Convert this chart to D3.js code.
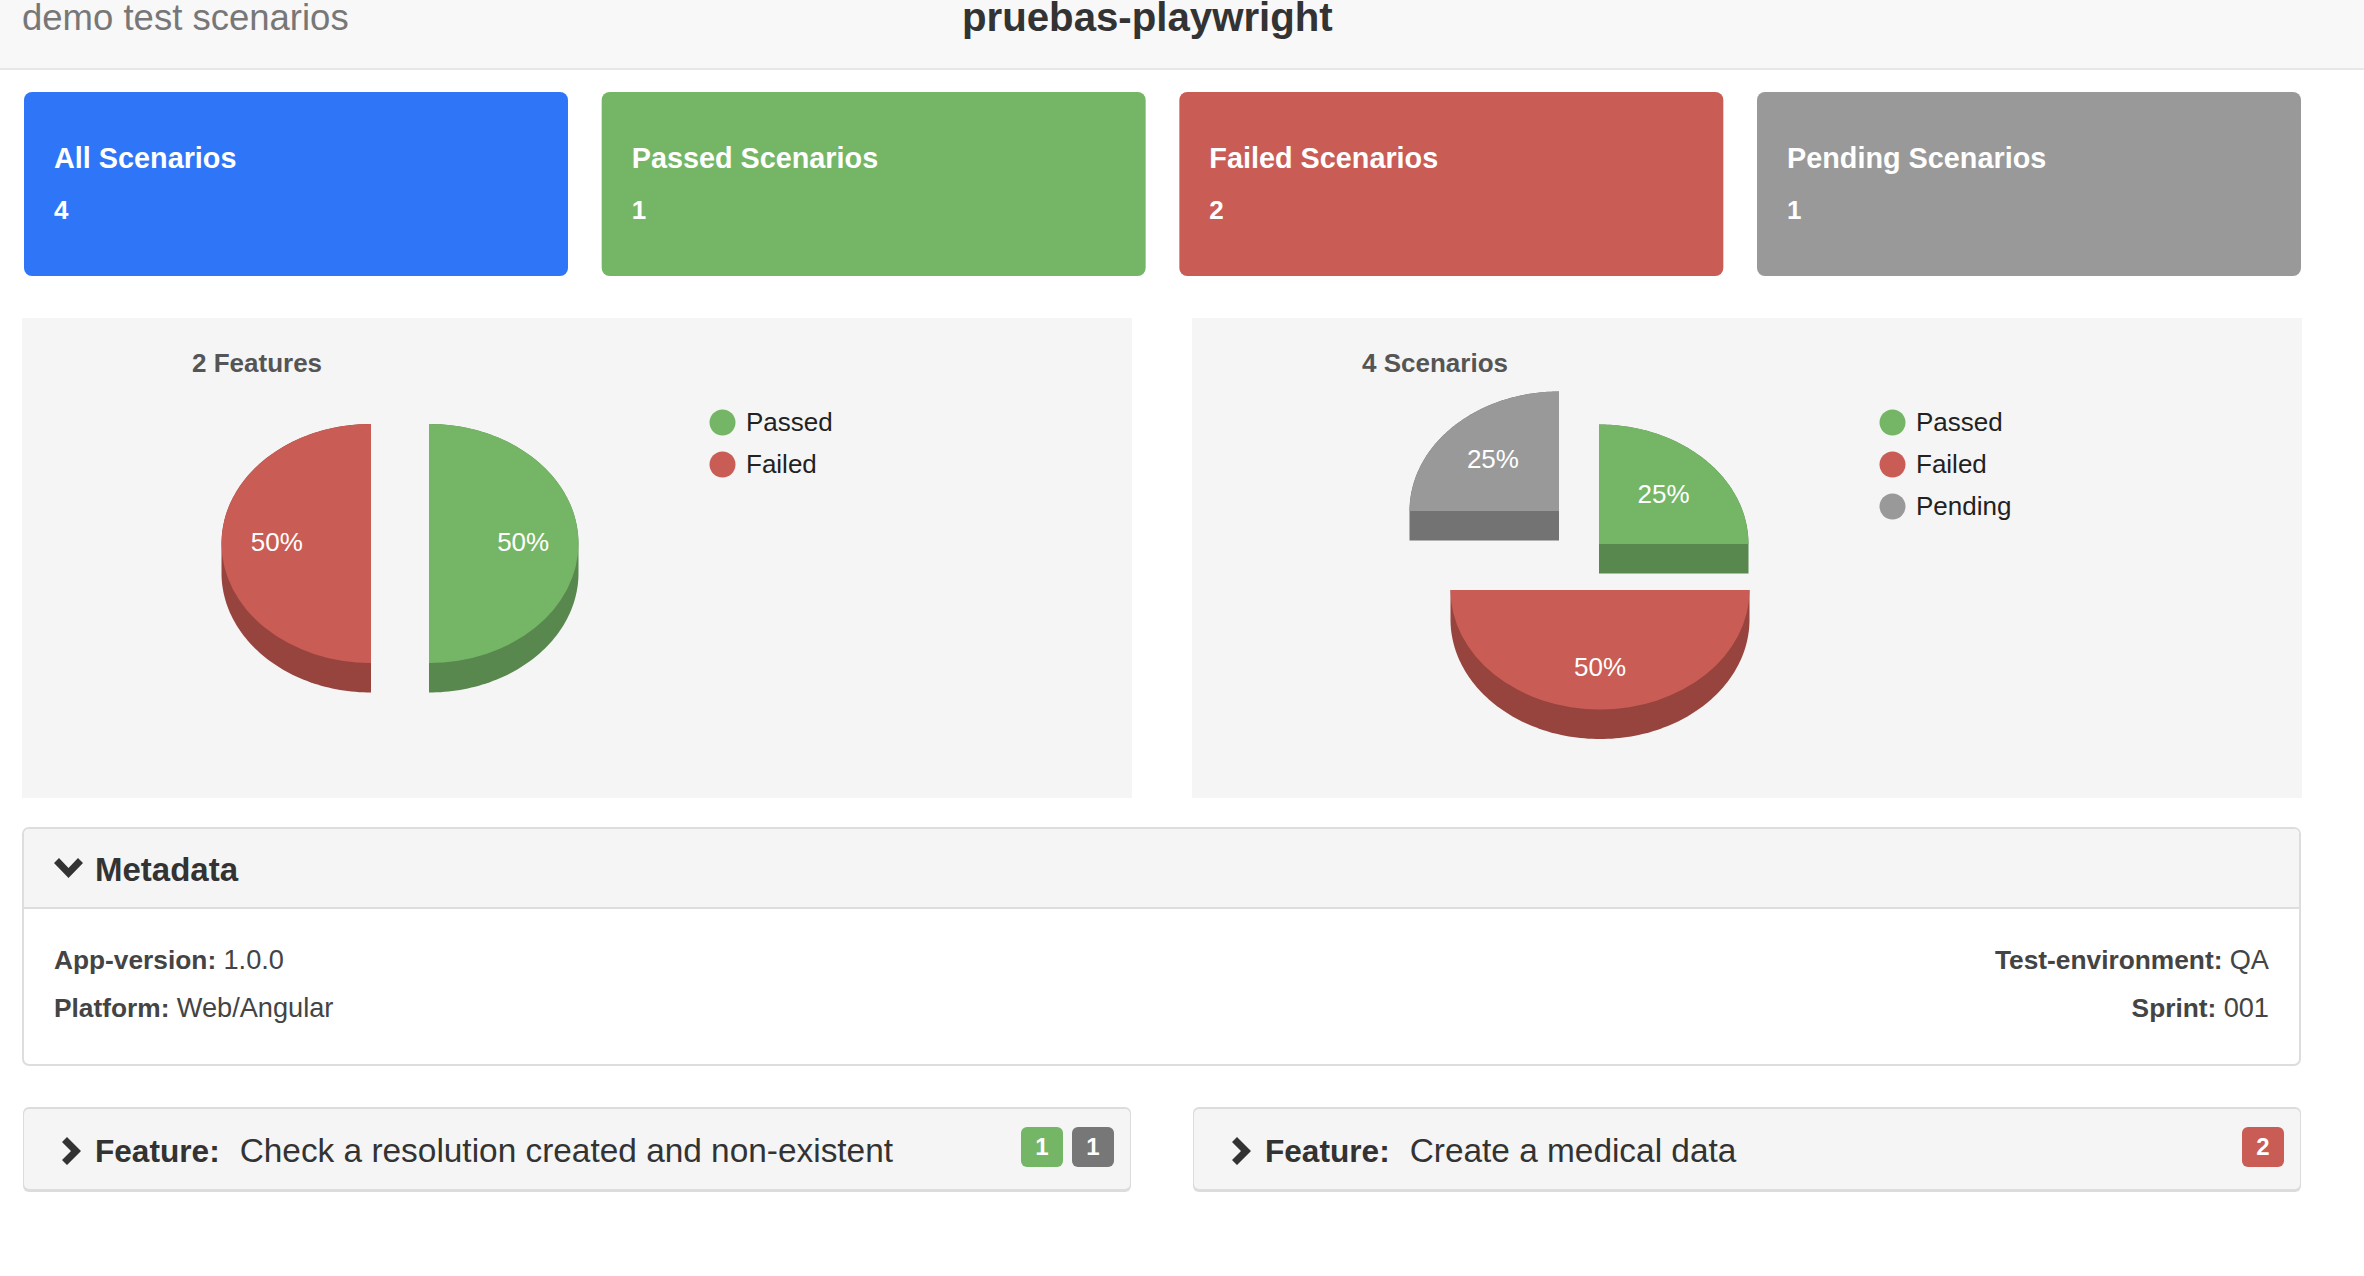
<!DOCTYPE html>
<html>
<head>
<meta charset="utf-8">
<title>pruebas-playwright</title>
<script src="https://cdn.jsdelivr.net/npm/d3@7"></script>
<style>
  html, body { margin: 0; padding: 0; background: #fff; }
  svg { display: block; }
  text { font-family: "Liberation Sans", Arial, sans-serif; }
</style>
</head>
<body>
<div id="report"></div>
<script>
// summary cards
var cardLabels = ["All Scenarios", "Passed Scenarios", "Failed Scenarios", "Pending Scenarios"];
var cardCounts = [4, 1, 2, 1];

// pie charts
var featureCategories = ["Passed", "Failed"];
var featureValues = [1, 1];
var scenarioCategories = ["Passed", "Failed", "Pending"];
var scenarioValues = [1, 2, 1];

// metadata block
var metaLeftKeys = ["App-version:", "Platform:"];
var metaLeftValues = ["1.0.0", "Web/Angular"];
var metaRightKeys = ["Test-environment:", "Sprint:"];
var metaRightValues = ["QA", "001"];

// feature rows
var featureNames = ["Check a resolution created and non-existent", "Create a medical data"];
var featureBadgeStatus = [["Passed", "Pending"], ["Failed"]];
var featureBadgeCounts = [[1, 1], [2]];

var width = 2364, height = 1276;

var faceColor = d3.scaleOrdinal()
  .domain(["All", "Passed", "Failed", "Pending"])
  .range(["#2e75f7", "#75b666", "#c95c55", "#999999"]);
var wallColor = d3.scaleOrdinal()
  .domain(["Passed", "Failed", "Pending"])
  .range(["#58884e", "#97443e", "#737373"]);
var badgeColor = d3.scaleOrdinal()
  .domain(["Passed", "Failed", "Pending"])
  .range(["#75b666", "#c95c55", "#777777"]);

var svg = d3.select("#report").append("svg")
  .attr("width", width)
  .attr("height", height);

// ---- navbar
svg.append("rect").attr("width", width).attr("height", 69).attr("fill", "#f8f8f8");
svg.append("rect").attr("y", 68).attr("width", width).attr("height", 2).attr("fill", "#e7e7e7");
svg.append("text").attr("x", 22).attr("y", 30)
  .attr("font-size", 36.5).attr("fill", "#777")
  .text("demo test scenarios");
svg.append("text").attr("x", 962).attr("y", 31)
  .attr("font-size", 40.2).attr("font-weight", "bold").attr("fill", "#333")
  .text("pruebas-playwright");

// ---- cards
var cardX = d3.scaleBand().domain(cardLabels).range([24, 2301]).paddingInner(0.0583);
var cardKeys = ["All", "Passed", "Failed", "Pending"];

var cards = svg.selectAll(".card")
  .data(cardLabels)
  .enter().append("g")
    .attr("class", "card")
    .attr("transform", d => `translate(${cardX(d)},92)`);

cards.append("rect")
  .attr("width", cardX.bandwidth())
  .attr("height", 184)
  .attr("rx", 8)
  .attr("fill", (d, i) => faceColor(cardKeys[i]));
cards.append("text")
  .attr("x", 30).attr("y", 76)
  .attr("font-size", 28.8).attr("font-weight", "bold").attr("fill", "#fff")
  .text(d => d);
cards.append("text")
  .attr("x", 30).attr("y", 127)
  .attr("font-size", 26).attr("font-weight", "bold").attr("fill", "#fff")
  .text((d, i) => cardCounts[i]);

// ---- pies
// draws a tilted pie, each slice pushed out by its own offset
function drawPie(opts) {
  var g = svg.append("g");
  g.append("rect")
    .attr("x", opts.panelX).attr("y", 318)
    .attr("width", 1110).attr("height", 480)
    .attr("fill", "#f5f5f5");

  g.append("text")
    .attr("x", opts.titleX).attr("y", 372)
    .attr("font-size", 26).attr("font-weight", "bold").attr("fill", "#555")
    .text(opts.title);

  var rx = 149.5, ry = 119.5, depth = 29.5;
  var total = d3.sum(opts.values);
  var slices = d3.pie().sort(null).value(d => d)(opts.values);
  var faceArc = d3.arc().innerRadius(0).outerRadius(rx);
  var labelArc = d3.arc().innerRadius(rx * 0.63).outerRadius(rx * 0.63);

  slices.forEach(function(s, i) {
    var cat = opts.categories[i];
    var slice = g.append("g")
      .attr("transform", `translate(${opts.cx + opts.offsets[i][0]},${opts.cy + opts.offsets[i][1]})`);

    // side wall: hull of the slice outline and the same outline moved down
    var outline = [[0, 0]].concat(d3.range(0, 121).map(function(k) {
      var a = s.startAngle + (s.endAngle - s.startAngle) * k / 120;
      return [rx * Math.sin(a), -ry * Math.cos(a)];
    }));
    var hull = d3.polygonHull(outline.concat(outline.map(p => [p[0], p[1] + depth])));
    slice.append("path")
      .attr("d", "M" + hull.join("L") + "Z")
      .attr("fill", wallColor(cat));

    slice.append("path")
      .attr("d", faceArc(s))
      .attr("transform", `scale(1,${ry / rx})`)
      .attr("fill", faceColor(cat));

    var c = labelArc.centroid(s);
    slice.append("text")
      .attr("x", c[0] + opts.labelNudge[i][0])
      .attr("y", c[1] * ry / rx + 9 + opts.labelNudge[i][1])
      .attr("text-anchor", "middle")
      .attr("font-size", 26).attr("fill", "#fff")
      .text(d3.format(".0%")(s.value / total));
  });

  var legend = g.selectAll(".legend")
    .data(opts.categories)
    .enter().append("g")
      .attr("transform", (d, i) => `translate(${opts.legendX},${422.5 + i * 42})`);
  legend.append("circle").attr("r", 13).attr("fill", d => faceColor(d));
  legend.append("text")
    .attr("x", 23.5).attr("y", 8.5)
    .attr("font-size", 26).attr("fill", "#222")
    .text(d => d);
}

drawPie({
  panelX: 22, titleX: 192, title: "2 Features", legendX: 722.5,
  cx: 400, cy: 543.5,
  categories: featureCategories, values: featureValues,
  offsets: [[29, 0], [-29, 0]],
  labelNudge: [[0, -1.5], [0, -1.5]]
});
drawPie({
  panelX: 1192, titleX: 1362, title: "4 Scenarios", legendX: 1892.5,
  cx: 1579, cy: 544,
  categories: scenarioCategories, values: scenarioValues,
  offsets: [[20, 0], [21, 46], [-20, -33]],
  labelNudge: [[-2, 3], [0, 1.5], [0.5, 1.5]]
});

// ---- metadata panel
var meta = svg.append("g");
meta.append("rect")
  .attr("x", 23).attr("y", 828).attr("width", 2277).attr("height", 237)
  .attr("rx", 6).attr("fill", "#fff").attr("stroke", "#ddd").attr("stroke-width", 2);
meta.append("path")
  .attr("d", "M24,907V834q0,-5 5,-5H2294q5,0 5,5V907Z")
  .attr("fill", "#f5f5f5");
meta.append("rect").attr("x", 23).attr("y", 907).attr("width", 2277).attr("height", 2).attr("fill", "#ddd");
meta.append("path")
  .attr("d", "M54,863L59,858L68.500,868L78,858L83,863L68.500,878Z")
  .attr("fill", "#333");
meta.append("text").attr("x", 95).attr("y", 881)
  .attr("font-size", 33).attr("font-weight", "bold").attr("fill", "#333")
  .text("Metadata");

function metaLine(x, y, anchor, key, value) {
  var t = meta.append("text")
    .attr("x", x).attr("y", y)
    .attr("text-anchor", anchor)
    .attr("fill", "#444");
  t.append("tspan").attr("font-size", 26.3).attr("font-weight", "bold").text(key + " ");
  t.append("tspan").attr("font-size", 27.2).text(value);
}
var metaY = d3.scalePoint().domain([0, 1]).range([969, 1017]);
metaLeftKeys.forEach((k, i) => metaLine(54, metaY(i), "start", k, metaLeftValues[i]));
metaRightKeys.forEach((k, i) => metaLine(2269, metaY(i), "end", k, metaRightValues[i]));

// ---- feature rows
var rowX = [23, 1193];
featureNames.forEach(function(name, i) {
  var row = svg.append("g").attr("transform", `translate(${rowX[i]},1107)`);
  row.append("rect")
    .attr("width", 1108).attr("height", 85).attr("rx", 6)
    .attr("fill", "#dcdcdc");
  row.append("rect")
    .attr("x", 1).attr("y", 2).attr("width", 1106).attr("height", 80).attr("rx", 5)
    .attr("fill", "#f5f5f5");
  row.append("path")
    .attr("d", "M39,35L44,30L58,44L44,58L39,53L48,44Z")
    .attr("fill", "#333");
  var t = row.append("text")
    .attr("x", 72).attr("y", 55)
    .attr("fill", "#333");
  t.append("tspan").attr("font-size", 31.6).attr("font-weight", "bold").text("Feature:");
  t.append("tspan").attr("font-size", 33.4).attr("dx", 20).text(name);

  // badges are right aligned in the row
  var n = featureBadgeCounts[i].length;
  featureBadgeCounts[i].forEach(function(count, j) {
    var bx = 998 + (j - n + 2) * 51;
    var status = featureBadgeStatus[i][j];
    row.append("rect")
      .attr("x", bx).attr("y", 20)
      .attr("width", 42).attr("height", 40).attr("rx", 6)
      .attr("fill", badgeColor(status));
    row.append("text")
      .attr("x", bx + 21).attr("y", 48)
      .attr("text-anchor", "middle")
      .attr("font-size", 24).attr("font-weight", "bold").attr("fill", "#fff")
      .text(count);
  });
});
</script>
</body>
</html>
